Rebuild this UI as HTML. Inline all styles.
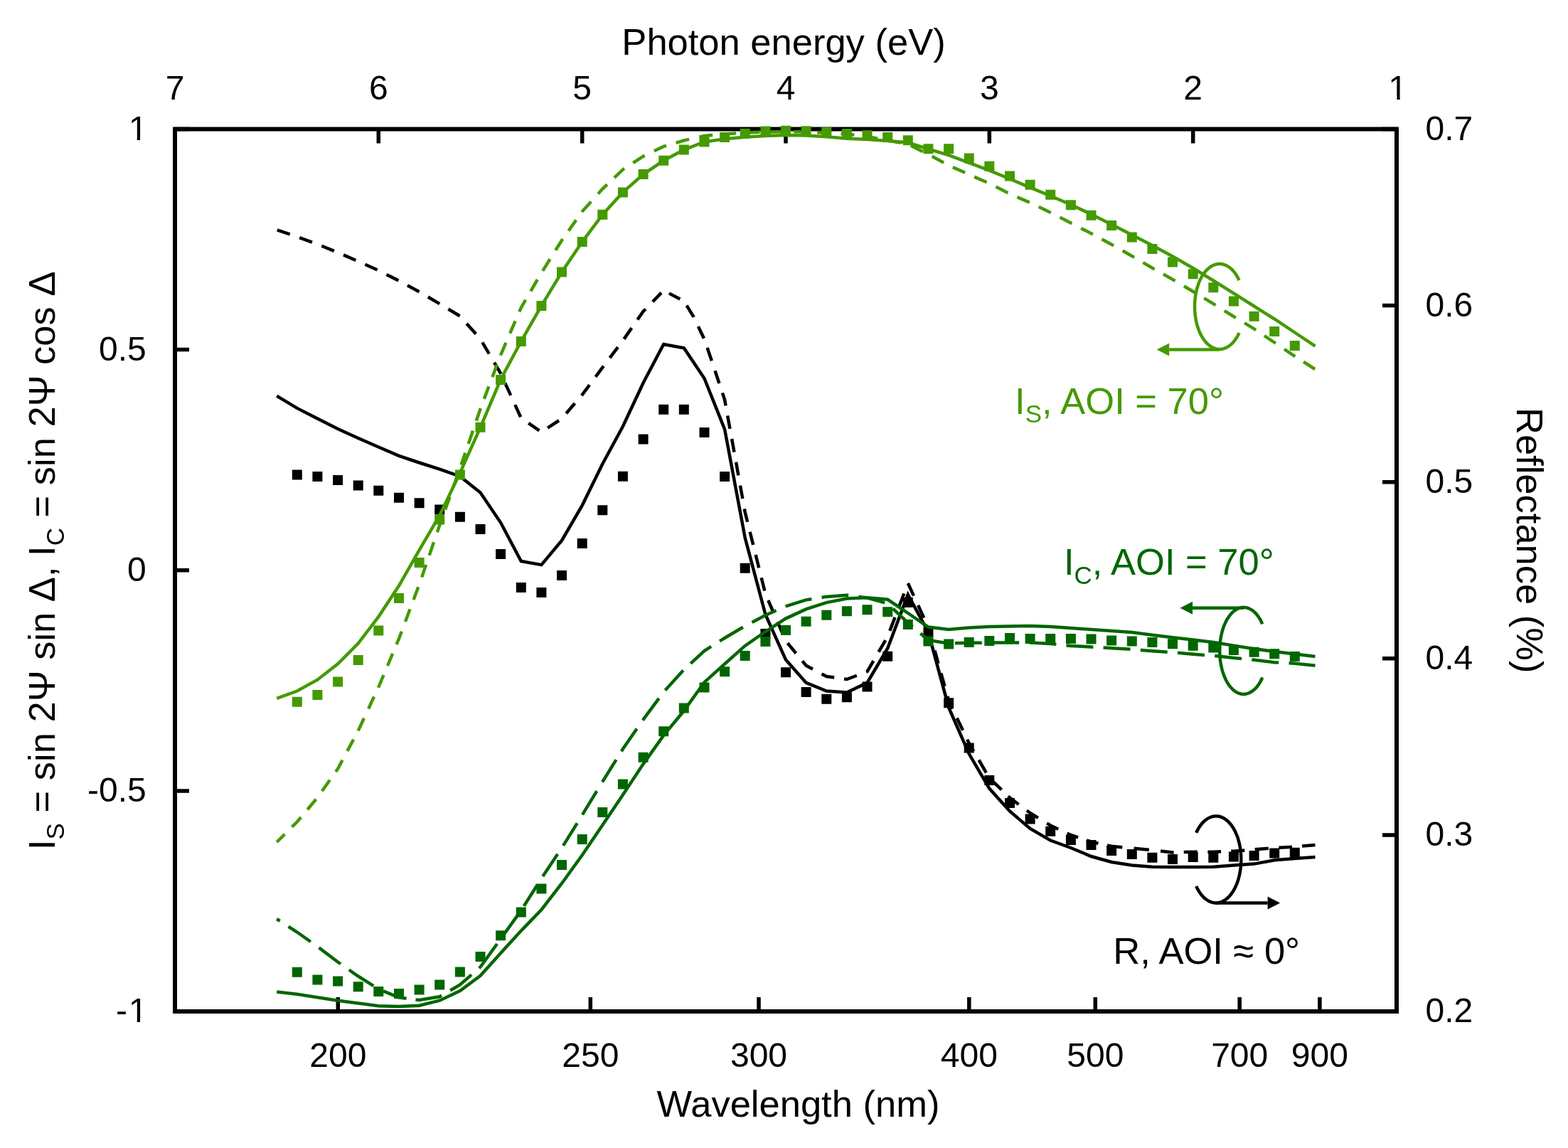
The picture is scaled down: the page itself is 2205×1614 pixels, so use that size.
<!DOCTYPE html>
<html><head><meta charset="utf-8"><title>Figure</title>
<style>html,body{margin:0;padding:0;background:#fff;} svg{display:block;}</style>
</head><body>
<svg width="2205" height="1614" viewBox="0 0 2205 1614"><path d="M246.0 181.5v20M532.3 181.5v20M818.7 181.5v20M1105.0 181.5v20M1391.3 181.5v20M1677.7 181.5v20M1964.0 181.5v20M475.3 1422.0v-20M830.3 1422.0v-20M1067.0 1422.0v-20M1362.8 1422.0v-20M1540.3 1422.0v-20M1743.2 1422.0v-20M1855.9 1422.0v-20M246.0 181.5h20M246.0 491.6h20M246.0 801.8h20M246.0 1111.9h20M246.0 1422.0h20M1964.0 181.5h-20M1964.0 429.6h-20M1964.0 677.7h-20M1964.0 925.8h-20M1964.0 1173.9h-20M1964.0 1422.0h-20" stroke="#000" stroke-width="5.5" fill="none"/>
<rect x="246.0" y="181.5" width="1718.0" height="1240.5" fill="none" stroke="#000" stroke-width="6"/>
<g fill="none" stroke="#000" stroke-width="4.5"><polyline points="389.2,323.2 389.8,323.4" stroke-dasharray="19 14.4" stroke-dashoffset="32.74"/><polyline points="389.8,323.4 417.8,332.8 446.4,343.3 475.1,355.0 503.7,367.4 532.3,380.3 561.0,394.7 589.6,410.2 618.2,427.1 646.9,444.5 656.2,454.9" stroke-dasharray="18.89 14.32"/><polyline points="656.2,454.9 675.5,476.5 678.3,481.3" stroke-dasharray="19.62 14.87"/><polyline points="678.3,481.3 695.0,509.6" stroke-dasharray="18.70 14.17"/><polyline points="695.0,509.6 704.1,525.0 710.3,538.6" stroke-dasharray="18.69 14.17"/><polyline points="710.3,538.6 724.3,569.1" stroke-dasharray="19.07 14.45"/><polyline points="724.3,569.1 732.8,587.7 743.2,594.9" stroke-dasharray="18.87 14.30"/><polyline points="743.2,594.9 761.4,607.5 770.1,601.7" stroke-dasharray="18.52 14.04"/><polyline points="770.1,601.7 790.0,588.6 796.2,581.3" stroke-dasharray="19.00 14.40"/><polyline points="796.2,581.3 817.7,556.1" stroke-dasharray="18.83 14.27"/><polyline points="817.7,556.1 818.7,555.0 837.5,529.9" stroke-dasharray="18.71 14.18"/><polyline points="837.5,529.9 847.3,516.7 857.5,503.2" stroke-dasharray="18.97 14.37"/><polyline points="857.5,503.2 875.9,478.9 877.5,476.6" stroke-dasharray="18.92 14.34"/><polyline points="877.5,476.6 896.4,449.5" stroke-dasharray="18.84 14.28"/><polyline points="896.4,449.5 904.6,437.8 917.8,424.2" stroke-dasharray="18.90 14.32"/><polyline points="917.8,424.2 933.2,408.3 961.8,423.5 965.6,429.5" stroke-dasharray="17.53 13.28"/><polyline points="965.6,429.5 975.5,445.5 981.9,459.0" stroke-dasharray="19.21 14.56"/><polyline points="981.9,459.0 990.5,477.0 994.6,489.1" stroke-dasharray="18.60 14.10"/><polyline points="994.6,489.1 1005.0,519.5 1005.5,521.2" stroke-dasharray="19.27 14.60"/><polyline points="1005.5,521.2 1015.9,552.4" stroke-dasharray="18.71 14.18"/><polyline points="1015.9,552.4 1019.1,562.0 1023.1,584.3" stroke-dasharray="18.66 14.14"/><polyline points="1023.1,584.3 1029.1,617.0" stroke-dasharray="18.91 14.33"/><polyline points="1029.1,617.0 1047.7,720.0 1070.7,812.3" stroke-dasharray="18.94 14.36"/><polyline points="1070.7,812.3 1076.4,835.0 1080.3,844.0" stroke-dasharray="18.91 14.33"/><polyline points="1080.3,844.0 1105.0,901.0 1107.5,904.1" stroke-dasharray="18.79 14.24"/><polyline points="1107.5,904.1 1128.4,929.4" stroke-dasharray="18.66 14.14"/><polyline points="1128.4,929.4 1133.6,935.7 1155.5,947.4" stroke-dasharray="18.79 14.24"/><polyline points="1155.5,947.4 1162.3,951.1 1187.1,954.5" stroke-dasharray="18.67 14.15"/><polyline points="1187.1,954.5 1190.9,955.0 1218.1,944.7" stroke-dasharray="18.71 14.18"/><polyline points="1218.1,944.7 1219.5,944.2 1235.6,916.7" stroke-dasharray="18.99 14.39"/><polyline points="1235.6,916.7 1248.2,895.0 1251.3,886.9" stroke-dasharray="19.20 14.55"/><polyline points="1251.3,886.9 1276.8,820.0" stroke-dasharray="20.36 15.43"/><polyline points="1276.8,820.0 1291.1,851.0" stroke-dasharray="19.40 14.70"/><polyline points="1291.1,851.0 1305.4,882.0 1314.5,914.7" stroke-dasharray="19.38 14.69"/><polyline points="1314.5,914.7 1323.3,946.4" stroke-dasharray="18.74 14.20"/><polyline points="1323.3,946.4 1334.1,985.0 1345.8,1009.6" stroke-dasharray="19.14 14.50"/><polyline points="1345.8,1009.6 1362.7,1045.0 1376.5,1068.5" stroke-dasharray="18.91 14.33"/><polyline points="1376.5,1068.5 1391.3,1094.0 1396.3,1098.7" stroke-dasharray="20.66 15.66"/><polyline points="1396.3,1098.7 1417.7,1119.4" stroke-dasharray="16.94 12.84"/><polyline points="1417.7,1119.4 1420.0,1121.5 1443.9,1139.5" stroke-dasharray="18.81 14.26"/><polyline points="1443.9,1139.5 1448.6,1143.0 1472.2,1157.4" stroke-dasharray="19.08 14.46"/><polyline points="1472.2,1157.4 1477.2,1160.5 1500.6,1171.5" stroke-dasharray="18.04 13.67"/><polyline points="1500.6,1171.5 1505.9,1174.0 1528.0,1181.3" stroke-dasharray="16.56 12.55"/><polyline points="1528.0,1181.3 1534.5,1183.5 1557.0,1188.5" stroke-dasharray="17.02 12.90"/><polyline points="1557.0,1188.5 1563.1,1189.8 1591.8,1192.5 1620.4,1195.3 1632.0,1196.6" stroke-dasharray="21.48 16.28"/><polyline points="1632.0,1196.6 1649.0,1198.5 1664.8,1198.1" stroke-dasharray="18.70 14.17"/><polyline points="1664.8,1198.1 1677.7,1197.8 1698.4,1197.8" stroke-dasharray="19.11 14.48"/><polyline points="1698.4,1197.8 1706.3,1197.8 1731.2,1196.8" stroke-dasharray="18.67 14.15"/><polyline points="1731.2,1196.8 1734.9,1196.7 1763.6,1194.4 1764.7,1194.3" stroke-dasharray="19.11 14.49"/><polyline points="1764.7,1194.3 1792.2,1192.0 1798.4,1191.7" stroke-dasharray="19.23 14.58"/><polyline points="1798.4,1191.7 1820.8,1190.5 1831.1,1189.6" stroke-dasharray="18.63 14.12"/><polyline points="1831.1,1189.6 1849.5,1188.1" stroke-dasharray="19 14.4"/></g>
<polyline points="389.2,556.6 417.8,573.9 446.4,588.5 475.1,603.0 503.7,616.0 532.3,628.5 561.0,640.8 589.6,650.5 618.2,659.6 646.9,669.7 675.5,692.5 704.1,734.8 732.8,789.0 761.4,794.1 790.0,759.9 818.7,710.6 847.3,652.2 875.9,599.5 904.6,538.2 933.2,484.0 961.8,489.2 990.5,532.0 1019.1,603.6 1047.7,756.0 1076.4,864.0 1105.0,927.6 1133.6,959.9 1162.3,971.6 1190.9,973.5 1219.5,959.9 1248.2,911.5 1276.8,836.0 1305.4,888.8 1334.1,994.7 1362.7,1059.8 1391.3,1108.6 1420.0,1140.5 1448.6,1165.0 1477.2,1181.5 1505.9,1192.0 1534.5,1204.0 1563.1,1212.0 1591.8,1216.4 1620.4,1218.7 1649.0,1219.0 1677.7,1219.0 1706.3,1218.7 1734.9,1216.4 1763.6,1214.6 1792.2,1209.3 1820.8,1207.0 1849.5,1204.9" fill="none" stroke="#000" stroke-width="4.5"/>
<path d="M410.8 660.5h14.0v14.0h-14.0zM439.4 663.0h14.0v14.0h-14.0zM468.1 667.9h14.0v14.0h-14.0zM496.7 675.4h14.0v14.0h-14.0zM525.3 682.8h14.0v14.0h-14.0zM554.0 692.7h14.0v14.0h-14.0zM582.6 700.2h14.0v14.0h-14.0zM611.2 709.6h14.0v14.0h-14.0zM639.9 719.8h14.0v14.0h-14.0zM668.5 737.1h14.0v14.0h-14.0zM697.1 772.0h14.0v14.0h-14.0zM725.8 819.0h14.0v14.0h-14.0zM754.4 826.1h14.0v14.0h-14.0zM783.0 801.9h14.0v14.0h-14.0zM811.7 756.9h14.0v14.0h-14.0zM840.3 710.2h14.0v14.0h-14.0zM868.9 662.8h14.0v14.0h-14.0zM897.6 610.4h14.0v14.0h-14.0zM926.2 568.8h14.0v14.0h-14.0zM954.8 568.8h14.0v14.0h-14.0zM983.5 601.0h14.0v14.0h-14.0zM1012.1 662.9h14.0v14.0h-14.0zM1040.7 791.7h14.0v14.0h-14.0zM1069.4 884.0h14.0v14.0h-14.0zM1098.0 938.2h14.0v14.0h-14.0zM1126.6 965.9h14.0v14.0h-14.0zM1155.3 975.8h14.0v14.0h-14.0zM1183.9 973.3h14.0v14.0h-14.0zM1212.5 958.4h14.0v14.0h-14.0zM1241.2 915.7h14.0v14.0h-14.0zM1269.8 840.1h14.0v14.0h-14.0zM1298.4 882.2h14.0v14.0h-14.0zM1327.1 981.2h14.0v14.0h-14.0zM1355.7 1044.4h14.0v14.0h-14.0zM1384.3 1089.9h14.0v14.0h-14.0zM1413.0 1122.0h14.0v14.0h-14.0zM1441.6 1144.5h14.0v14.0h-14.0zM1470.2 1161.8h14.0v14.0h-14.0zM1498.9 1174.0h14.0v14.0h-14.0zM1527.5 1181.1h14.0v14.0h-14.0zM1556.1 1189.1h14.0v14.0h-14.0zM1584.8 1194.0h14.0v14.0h-14.0zM1613.4 1198.8h14.0v14.0h-14.0zM1642.0 1200.9h14.0v14.0h-14.0zM1670.7 1197.9h14.0v14.0h-14.0zM1699.3 1198.8h14.0v14.0h-14.0zM1727.9 1197.5h14.0v14.0h-14.0zM1756.6 1196.1h14.0v14.0h-14.0zM1785.2 1192.6h14.0v14.0h-14.0zM1813.8 1191.7h14.0v14.0h-14.0z" fill="#000"/>
<g fill="none" stroke="#449a00" stroke-width="4.5"><polyline points="389.2,1184.0 410.5,1162.7" stroke-dasharray="19 14.4" stroke-dashoffset="3.25"/><polyline points="410.5,1162.7 417.8,1155.5 432.3,1138.2" stroke-dasharray="18.67 14.15"/><polyline points="432.3,1138.2 446.4,1121.4 452.8,1112.3" stroke-dasharray="18.82 14.27"/><polyline points="452.8,1112.3 472.1,1085.0" stroke-dasharray="19.02 14.42"/><polyline points="472.1,1085.0 475.1,1080.7 488.4,1055.9" stroke-dasharray="18.96 14.37"/><polyline points="488.4,1055.9 503.7,1027.4 503.7,1027.4" stroke-dasharray="18.45 13.98"/><polyline points="503.7,1027.4 518.1,996.5" stroke-dasharray="19.39 14.69"/><polyline points="518.1,996.5 532.0,966.7" stroke-dasharray="18.68 14.16"/><polyline points="532.0,966.7 532.3,966.1 545.0,936.0" stroke-dasharray="18.96 14.37"/><polyline points="545.0,936.0 557.6,906.0" stroke-dasharray="18.50 14.02"/><polyline points="557.6,906.0 561.0,897.9 570.0,874.0" stroke-dasharray="19.56 14.82"/><polyline points="570.0,874.0 581.5,843.2" stroke-dasharray="18.70 14.17"/><polyline points="581.5,843.2 589.6,821.6 593.1,811.4" stroke-dasharray="19.25 14.59"/><polyline points="593.1,811.4 603.7,780.8" stroke-dasharray="18.40 13.95"/><polyline points="603.7,780.8 614.8,748.3" stroke-dasharray="19.56 14.82"/><polyline points="614.8,748.3 618.2,738.5 626.1,716.4" stroke-dasharray="19.24 14.58"/><polyline points="626.1,716.4 637.4,684.9" stroke-dasharray="19.05 14.44"/><polyline points="637.4,684.9 646.9,658.5 648.5,653.6" stroke-dasharray="18.89 14.31"/><polyline points="648.5,653.6 658.7,623.9" stroke-dasharray="17.86 13.53"/><polyline points="658.7,623.9 669.8,591.6" stroke-dasharray="19.41 14.71"/><polyline points="669.8,591.6 675.5,575.0 680.8,560.9" stroke-dasharray="18.58 14.09"/><polyline points="680.8,560.9 692.4,530.1" stroke-dasharray="18.72 14.18"/><polyline points="692.4,530.1 703.9,499.6" stroke-dasharray="18.54 14.05"/><polyline points="703.9,499.6 704.1,499.0 717.2,468.6" stroke-dasharray="19.22 14.57"/><polyline points="717.2,468.6 730.2,438.4" stroke-dasharray="18.71 14.18"/><polyline points="730.2,438.4 732.8,432.5 746.3,409.3" stroke-dasharray="18.93 14.35"/><polyline points="746.3,409.3 761.4,383.5 763.2,380.7" stroke-dasharray="18.88 14.31"/><polyline points="763.2,380.7 781.3,351.8" stroke-dasharray="19.38 14.69"/><polyline points="781.3,351.8 790.0,338.0 799.5,324.5" stroke-dasharray="18.67 14.15"/><polyline points="799.5,324.5 818.3,297.9" stroke-dasharray="18.55 14.06"/><polyline points="818.3,297.9 818.7,297.3 841.1,272.5" stroke-dasharray="19.38 14.69"/><polyline points="841.1,272.5 847.3,265.6 863.9,249.8" stroke-dasharray="18.34 13.90"/><polyline points="863.9,249.8 875.9,238.4 890.3,229.0" stroke-dasharray="19.18 14.54"/><polyline points="890.3,229.0 904.6,219.7 919.9,212.3" stroke-dasharray="19.41 14.71"/><polyline points="919.9,212.3 933.2,205.9 950.6,200.8" stroke-dasharray="18.71 14.18"/><polyline points="950.6,200.8 961.8,197.5 983.4,192.6" stroke-dasharray="19.22 14.57"/><polyline points="983.4,192.6 990.5,191.0 1019.1,188.5 1047.7,186.5 1076.4,185.6 1105.0,185.2 1133.6,185.6 1162.3,186.7 1190.9,188.5 1219.5,192.0 1248.2,197.5 1276.8,202.5 1280.7,204.5" stroke-dasharray="18.92 14.34"/><polyline points="1280.7,204.5 1305.4,217.0 1310.7,219.8" stroke-dasharray="19.17 14.53"/><polyline points="1310.7,219.8 1334.1,232.5 1339.9,235.1" stroke-dasharray="18.72 14.19"/><polyline points="1339.9,235.1 1362.7,245.3 1370.2,248.6" stroke-dasharray="18.90 14.32"/><polyline points="1370.2,248.6 1391.3,257.9 1400.5,262.6" stroke-dasharray="18.99 14.40"/><polyline points="1400.5,262.6 1420.0,272.5 1430.5,277.1" stroke-dasharray="18.94 14.35"/><polyline points="1430.5,277.1 1448.6,285.0 1460.7,290.8" stroke-dasharray="18.89 14.32"/><polyline points="1460.7,290.8 1477.2,298.7 1490.5,305.6" stroke-dasharray="18.93 14.35"/><polyline points="1490.5,305.6 1505.9,313.6 1520.2,320.9" stroke-dasharray="19.03 14.42"/><polyline points="1520.2,320.9 1534.5,328.2 1549.4,336.2" stroke-dasharray="18.72 14.19"/><polyline points="1549.4,336.2 1563.1,343.7 1578.7,352.5" stroke-dasharray="19.08 14.46"/><polyline points="1578.7,352.5 1591.8,360.0 1607.4,369.1" stroke-dasharray="18.87 14.30"/><polyline points="1607.4,369.1 1620.4,376.7 1636.0,385.5" stroke-dasharray="18.73 14.19"/><polyline points="1636.0,385.5 1649.0,392.9 1665.0,402.2" stroke-dasharray="19.06 14.44"/><polyline points="1665.0,402.2 1677.7,409.7 1693.2,419.2" stroke-dasharray="18.73 14.19"/><polyline points="1693.2,419.2 1706.3,427.2 1721.8,436.9" stroke-dasharray="19.15 14.52"/><polyline points="1721.8,436.9 1734.9,445.0 1750.1,454.2" stroke-dasharray="18.90 14.32"/><polyline points="1750.1,454.2 1763.6,462.4 1778.0,472.0" stroke-dasharray="18.81 14.25"/><polyline points="1778.0,472.0 1792.2,481.5 1806.0,490.8" stroke-dasharray="19.17 14.53"/><polyline points="1806.0,490.8 1820.8,500.8 1833.1,508.7" stroke-dasharray="18.50 14.02"/><polyline points="1833.1,508.7 1849.5,519.3" stroke-dasharray="19 14.4"/></g>
<polyline points="389.2,981.8 417.8,971.5 446.4,955.7 475.1,933.4 503.7,904.5 532.3,867.1 561.0,823.5 589.6,773.4 618.2,724.6 646.9,664.8 675.5,601.0 704.1,533.5 732.8,479.9 761.4,429.9 790.0,382.5 818.7,340.1 847.3,301.7 875.9,270.4 904.6,245.1 933.2,225.8 961.8,210.6 990.5,199.4 1019.1,195.3 1047.7,192.8 1076.4,191.0 1105.0,190.0 1133.6,190.5 1162.3,192.2 1190.9,194.8 1219.5,196.0 1248.2,198.0 1276.8,200.5 1305.4,209.5 1334.1,218.2 1362.7,228.9 1391.3,239.7 1420.0,251.5 1448.6,263.6 1477.2,275.5 1505.9,287.6 1534.5,301.2 1563.1,315.4 1591.8,330.3 1620.4,345.1 1649.0,360.4 1677.7,377.0 1706.3,394.5 1734.9,412.3 1763.6,430.5 1792.2,448.5 1820.8,467.5 1849.5,486.6" fill="none" stroke="#449a00" stroke-width="4.5"/>
<path d="M410.8 979.8h14.0v14.0h-14.0zM439.4 970.1h14.0v14.0h-14.0zM468.1 951.5h14.0v14.0h-14.0zM496.7 920.9h14.0v14.0h-14.0zM525.3 879.6h14.0v14.0h-14.0zM554.0 834.1h14.0v14.0h-14.0zM582.6 783.9h14.0v14.0h-14.0zM611.2 723.6h14.0v14.0h-14.0zM639.9 660.4h14.0v14.0h-14.0zM668.5 593.7h14.0v14.0h-14.0zM697.1 526.9h14.0v14.0h-14.0zM725.8 472.9h14.0v14.0h-14.0zM754.4 422.9h14.0v14.0h-14.0zM783.0 375.5h14.0v14.0h-14.0zM811.7 333.1h14.0v14.0h-14.0zM840.3 294.7h14.0v14.0h-14.0zM868.9 263.4h14.0v14.0h-14.0zM897.6 238.1h14.0v14.0h-14.0zM926.2 218.8h14.0v14.0h-14.0zM954.8 203.6h14.0v14.0h-14.0zM983.5 192.4h14.0v14.0h-14.0zM1012.1 185.9h14.0v14.0h-14.0zM1040.7 180.7h14.0v14.0h-14.0zM1069.4 177.5h14.0v14.0h-14.0zM1098.0 176.8h14.0v14.0h-14.0zM1126.6 177.2h14.0v14.0h-14.0zM1155.3 178.7h14.0v14.0h-14.0zM1183.9 181.1h14.0v14.0h-14.0zM1212.5 183.3h14.0v14.0h-14.0zM1241.2 185.9h14.0v14.0h-14.0zM1269.8 190.3h14.0v14.0h-14.0zM1298.4 202.2h14.0v14.0h-14.0zM1327.1 202.2h14.0v14.0h-14.0zM1355.7 215.4h14.0v14.0h-14.0zM1384.3 226.8h14.0v14.0h-14.0zM1413.0 240.4h14.0v14.0h-14.0zM1441.6 252.8h14.0v14.0h-14.0zM1470.2 266.8h14.0v14.0h-14.0zM1498.9 281.2h14.0v14.0h-14.0zM1527.5 295.8h14.0v14.0h-14.0zM1556.1 310.0h14.0v14.0h-14.0zM1584.8 326.5h14.0v14.0h-14.0zM1613.4 342.9h14.0v14.0h-14.0zM1642.0 361.4h14.0v14.0h-14.0zM1670.7 378.3h14.0v14.0h-14.0zM1699.3 397.3h14.0v14.0h-14.0zM1727.9 416.4h14.0v14.0h-14.0zM1756.6 437.7h14.0v14.0h-14.0zM1785.2 459.0h14.0v14.0h-14.0zM1813.8 478.9h14.0v14.0h-14.0z" fill="#449a00"/>
<g fill="none" stroke="#006600" stroke-width="4.5"><polyline points="389.2,1292.0 405.6,1302.6" stroke-dasharray="38 14.3" stroke-dashoffset="32.68"/><polyline points="405.6,1302.6 417.8,1310.5 446.4,1330.8 448.5,1332.4" stroke-dasharray="37.91 14.27"/><polyline points="448.5,1332.4 475.1,1352.5 490.8,1363.5" stroke-dasharray="38.15 14.36"/><polyline points="490.8,1363.5 503.7,1372.5 532.3,1390.5 539.0,1393.3" stroke-dasharray="41.25 15.52"/><polyline points="539.0,1393.3 561.0,1402.4 584.5,1405.4" stroke-dasharray="34.50 12.98"/><polyline points="584.5,1405.4 589.6,1406.0 618.2,1401.3 633.2,1392.5" stroke-dasharray="37.44 14.09"/><polyline points="633.2,1392.5 646.9,1384.5 673.7,1361.1" stroke-dasharray="37.34 14.05"/><polyline points="673.7,1361.1 675.5,1359.5 704.1,1320.0 708.4,1314.0" stroke-dasharray="42.57 16.02"/><polyline points="708.4,1314.0 732.8,1280.0 761.4,1235.0 763.3,1232.1" stroke-dasharray="35.83 13.48"/><polyline points="763.3,1232.1 790.0,1192.0 792.0,1188.9" stroke-dasharray="37.69 14.18"/><polyline points="792.0,1188.9 818.7,1146.0 819.0,1145.4" stroke-dasharray="37.19 14.00"/><polyline points="819.0,1145.4 846.9,1099.6" stroke-dasharray="38.97 14.66"/><polyline points="846.9,1099.6 847.3,1099.0 873.9,1056.3" stroke-dasharray="37.08 13.96"/><polyline points="873.9,1056.3 875.9,1053.0 903.8,1012.7" stroke-dasharray="38.43 14.46"/><polyline points="903.8,1012.7 904.6,1011.7 933.2,973.0 935.4,970.6" stroke-dasharray="38.27 14.40"/><polyline points="935.4,970.6 961.8,941.5 971.2,932.8" stroke-dasharray="37.82 14.23"/><polyline points="971.2,932.8 990.5,915.0 1012.1,901.4" stroke-dasharray="37.66 14.17"/><polyline points="1012.1,901.4 1019.1,897.0 1047.7,880.0 1057.5,874.9" stroke-dasharray="38.21 14.38"/><polyline points="1057.5,874.9 1076.4,865.0 1104.7,852.4" stroke-dasharray="37.96 14.28"/><polyline points="1104.7,852.4 1105.0,852.3 1133.6,843.4 1155.5,840.0" stroke-dasharray="38.13 14.35"/><polyline points="1155.5,840.0 1162.3,838.9 1190.9,836.8 1207.3,838.9" stroke-dasharray="37.84 14.24"/><polyline points="1207.3,838.9 1219.5,840.5 1248.2,848.5 1276.8,875.6 1305.4,899.9 1334.1,904.6 1362.7,903.8 1391.3,903.6 1420.0,903.6 1448.6,903.6 1477.2,905.0 1499.5,907.4" stroke-dasharray="37.99 14.30"/><polyline points="1499.5,907.4 1505.9,908.1 1534.5,909.5 1551.6,910.5" stroke-dasharray="37.90 14.26"/><polyline points="1551.6,910.5 1563.1,911.2 1591.8,913.0 1603.8,914.0" stroke-dasharray="38.01 14.31"/><polyline points="1603.8,914.0 1620.4,915.3 1649.0,917.1 1656.0,917.8" stroke-dasharray="38.01 14.30"/><polyline points="1656.0,917.8 1677.7,919.8 1706.3,921.8 1708.2,922.0" stroke-dasharray="38.07 14.33"/><polyline points="1708.2,922.0 1734.9,925.0 1760.3,927.4" stroke-dasharray="38.05 14.32"/><polyline points="1760.3,927.4 1763.6,927.7 1792.2,931.2 1812.5,932.3" stroke-dasharray="38.10 14.34"/><polyline points="1812.5,932.3 1820.8,932.7 1849.5,935.8" stroke-dasharray="38 14.3"/></g>
<polyline points="389.2,1394.6 417.8,1397.8 446.4,1402.2 475.1,1406.7 503.7,1410.5 532.3,1414.3 561.0,1414.9 589.6,1413.7 618.2,1406.7 646.9,1393.0 675.5,1371.8 704.1,1339.9 732.8,1308.6 761.4,1279.0 790.0,1242.0 818.7,1202.3 847.3,1160.0 875.9,1117.6 904.6,1074.1 933.2,1033.9 961.8,999.3 990.5,959.2 1019.1,933.5 1047.7,907.9 1076.4,888.0 1105.0,869.6 1133.6,856.4 1162.3,847.1 1190.9,841.5 1219.5,840.3 1248.2,842.8 1276.8,862.0 1305.4,881.5 1334.1,885.1 1362.7,882.5 1391.3,881.0 1420.0,880.5 1448.6,880.0 1477.2,881.0 1505.9,883.0 1534.5,885.0 1563.1,886.9 1591.8,889.1 1620.4,892.7 1649.0,896.2 1677.7,899.6 1706.3,903.0 1734.9,907.6 1763.6,912.3 1792.2,915.9 1820.8,919.4 1849.5,923.0" fill="none" stroke="#006600" stroke-width="4.5"/>
<path d="M410.8 1359.7h14.0v14.0h-14.0zM439.4 1370.5h14.0v14.0h-14.0zM468.1 1372.6h14.0v14.0h-14.0zM496.7 1380.2h14.0v14.0h-14.0zM525.3 1387.0h14.0v14.0h-14.0zM554.0 1390.1h14.0v14.0h-14.0zM582.6 1384.4h14.0v14.0h-14.0zM611.2 1377.4h14.0v14.0h-14.0zM639.9 1359.5h14.0v14.0h-14.0zM668.5 1338.1h14.0v14.0h-14.0zM697.1 1308.3h14.0v14.0h-14.0zM725.8 1275.6h14.0v14.0h-14.0zM754.4 1242.6h14.0v14.0h-14.0zM783.0 1209.0h14.0v14.0h-14.0zM811.7 1173.0h14.0v14.0h-14.0zM840.3 1135.1h14.0v14.0h-14.0zM868.9 1095.6h14.0v14.0h-14.0zM897.6 1057.7h14.0v14.0h-14.0zM926.2 1021.3h14.0v14.0h-14.0zM954.8 988.5h14.0v14.0h-14.0zM983.5 959.5h14.0v14.0h-14.0zM1012.1 937.2h14.0v14.0h-14.0zM1040.7 914.9h14.0v14.0h-14.0zM1069.4 895.0h14.0v14.0h-14.0zM1098.0 878.9h14.0v14.0h-14.0zM1126.6 866.7h14.0v14.0h-14.0zM1155.3 857.7h14.0v14.0h-14.0zM1183.9 852.2h14.0v14.0h-14.0zM1212.5 850.2h14.0v14.0h-14.0zM1241.2 853.3h14.0v14.0h-14.0zM1269.8 871.1h14.0v14.0h-14.0zM1298.4 894.4h14.0v14.0h-14.0zM1327.1 898.5h14.0v14.0h-14.0zM1355.7 896.1h14.0v14.0h-14.0zM1384.3 893.9h14.0v14.0h-14.0zM1413.0 890.1h14.0v14.0h-14.0zM1441.6 891.1h14.0v14.0h-14.0zM1470.2 891.1h14.0v14.0h-14.0zM1498.9 891.1h14.0v14.0h-14.0zM1527.5 891.6h14.0v14.0h-14.0zM1556.1 893.4h14.0v14.0h-14.0zM1584.8 894.6h14.0v14.0h-14.0zM1613.4 895.9h14.0v14.0h-14.0zM1642.0 898.2h14.0v14.0h-14.0zM1670.7 900.8h14.0v14.0h-14.0zM1699.3 903.5h14.0v14.0h-14.0zM1727.9 907.0h14.0v14.0h-14.0zM1756.6 909.7h14.0v14.0h-14.0zM1785.2 912.3h14.0v14.0h-14.0zM1813.8 915.9h14.0v14.0h-14.0z" fill="#006600"/>
<g font-family="Liberation Sans, Arial, sans-serif" font-size="48" fill="#000"><text x="246.0" y="140" text-anchor="middle">7</text><text x="532.3" y="140" text-anchor="middle">6</text><text x="818.7" y="140" text-anchor="middle">5</text><text x="1105.0" y="140" text-anchor="middle">4</text><text x="1391.3" y="140" text-anchor="middle">3</text><text x="1677.7" y="140" text-anchor="middle">2</text><text x="1952.36" y="140">1</text><text x="475.3" y="1500" text-anchor="middle">200</text><text x="830.3" y="1500" text-anchor="middle">250</text><text x="1067.0" y="1500" text-anchor="middle">300</text><text x="1362.8" y="1500" text-anchor="middle">400</text><text x="1540.3" y="1500" text-anchor="middle">500</text><text x="1743.2" y="1500" text-anchor="middle">700</text><text x="1855.9" y="1500" text-anchor="middle">900</text><text x="180.71" y="196.7">1</text><text x="205.7" y="506.8" text-anchor="end">0.5</text><text x="205.7" y="817.0" text-anchor="end">0</text><text x="205.7" y="1127.1" text-anchor="end">-0.5</text><text x="163.03" y="1437.2">-<tspan dx="1.7">1</tspan></text><text x="2004.5" y="196.7">0.7</text><text x="2004.5" y="444.8">0.6</text><text x="2004.5" y="692.9">0.5</text><text x="2004.5" y="941.0">0.4</text><text x="2004.5" y="1189.1">0.3</text><text x="2004.5" y="1437.2">0.2</text></g>
<rect x="1953.9" y="135.7" width="10.5" height="5.3" fill="#fff"/><rect x="1968.7" y="135.7" width="9.7" height="5.3" fill="#fff"/><rect x="182.2" y="192.4" width="10.5" height="5.3" fill="#fff"/><rect x="197.0" y="192.4" width="9.7" height="5.3" fill="#fff"/><rect x="182.2" y="1432.9" width="10.5" height="5.3" fill="#fff"/><rect x="197.0" y="1432.9" width="9.7" height="5.3" fill="#fff"/>
<g font-family="Liberation Sans, Arial, sans-serif" font-size="52.5" fill="#000"><text x="1102" y="76.7" text-anchor="middle">Photon energy (eV)</text><text x="1122.5" y="1570.4" text-anchor="middle">Wavelength (nm)</text><text transform="translate(77,1195) rotate(-90)">I<tspan font-size="35" dy="12.5">S</tspan><tspan dy="-12.5"> = sin 2Ψ sin Δ, I</tspan><tspan font-size="35" dy="12.5">C</tspan><tspan dy="-12.5"> = sin 2Ψ cos Δ</tspan></text><text transform="translate(2133,573) rotate(90)">Reflectance (%)</text></g>
<polyline points="1742.6,394.1 1741.2,391.2 1739.7,388.5 1738.1,386.0 1736.5,383.6 1734.7,381.4 1732.9,379.4 1731.0,377.6 1729.0,376.0 1727.0,374.6 1724.9,373.5 1722.8,372.5 1720.7,371.8 1718.6,371.3 1716.4,371.0 1714.2,371.0 1712.1,371.2 1709.9,371.6 1707.8,372.3 1705.7,373.2 1703.6,374.3 1701.6,375.6 1699.6,377.1 1697.7,378.9 1695.8,380.8 1694.1,382.9 1692.4,385.2 1690.8,387.7 1689.2,390.4 1687.8,393.2 1686.5,396.2 1685.3,399.2 1684.2,402.5 1683.2,405.8 1682.4,409.2 1681.7,412.7 1681.1,416.3 1680.6,419.9 1680.3,423.6 1680.1,427.3 1680.0,431.0 1680.1,434.7 1680.3,438.4 1680.6,442.1 1681.1,445.7 1681.7,449.3 1682.4,452.8 1683.2,456.2 1684.2,459.5 1685.3,462.8 1686.5,465.8 1687.8,468.8 1689.2,471.6 1690.8,474.3 1692.4,476.8 1694.1,479.1 1695.8,481.2 1697.7,483.1 1699.6,484.9 1701.6,486.4 1703.6,487.7 1705.7,488.8 1707.8,489.7 1709.9,490.4 1712.1,490.8 1714.2,491.0 1716.4,491.0 1718.6,490.7 1720.7,490.2 1722.8,489.5 1724.9,488.5 1727.0,487.4 1729.0,486.0 1731.0,484.4 1732.9,482.6 1734.7,480.6 1736.5,478.4 1738.1,476.0 1739.7,473.5 1741.2,470.8 1742.6,467.9" fill="none" stroke="#449a00" stroke-width="4.5"/><path d="M1715.0 491.5H1644.2" stroke="#449a00" stroke-width="4.5"/><path d="M1626.7 491.5L1644.2 482.5L1644.2 500.5z" fill="#449a00"/><polyline points="1775.3,877.3 1773.9,874.4 1772.5,871.7 1771.0,869.1 1769.4,866.7 1767.7,864.5 1766.0,862.4 1764.1,860.6 1762.3,859.0 1760.3,857.6 1758.3,856.4 1756.3,855.5 1754.3,854.7 1752.2,854.2 1750.1,853.9 1748.1,853.9 1746.0,854.1 1743.9,854.5 1741.9,855.2 1739.8,856.1 1737.9,857.2 1735.9,858.6 1734.0,860.1 1732.2,861.9 1730.4,863.9 1728.7,866.0 1727.1,868.4 1725.5,870.9 1724.1,873.6 1722.7,876.5 1721.4,879.5 1720.3,882.6 1719.2,885.9 1718.3,889.3 1717.5,892.7 1716.8,896.3 1716.2,899.9 1715.8,903.6 1715.5,907.4 1715.3,911.1 1715.2,914.9 1715.3,918.7 1715.5,922.4 1715.8,926.2 1716.2,929.9 1716.8,933.5 1717.5,937.1 1718.3,940.5 1719.2,943.9 1720.3,947.2 1721.4,950.3 1722.7,953.3 1724.1,956.2 1725.5,958.9 1727.1,961.4 1728.7,963.8 1730.4,965.9 1732.2,967.9 1734.0,969.7 1735.9,971.2 1737.9,972.6 1739.8,973.7 1741.9,974.6 1743.9,975.3 1746.0,975.7 1748.1,975.9 1750.1,975.9 1752.2,975.6 1754.3,975.1 1756.3,974.3 1758.3,973.4 1760.3,972.2 1762.3,970.8 1764.1,969.2 1766.0,967.4 1767.7,965.3 1769.4,963.1 1771.0,960.7 1772.5,958.1 1773.9,955.4 1775.3,952.5" fill="none" stroke="#006600" stroke-width="4.5"/><path d="M1748.8 854.8H1677.0" stroke="#006600" stroke-width="4.5"/><path d="M1659.5 854.8L1677.0 845.8L1677.0 863.8z" fill="#006600"/><polyline points="1682.2,1246.0 1683.6,1248.9 1685.1,1251.6 1686.7,1254.2 1688.4,1256.6 1690.1,1258.8 1692.0,1260.9 1693.9,1262.7 1695.9,1264.3 1697.9,1265.7 1700.0,1266.9 1702.1,1267.8 1704.2,1268.6 1706.4,1269.1 1708.6,1269.4 1710.8,1269.4 1713.0,1269.2 1715.1,1268.8 1717.3,1268.1 1719.4,1267.2 1721.5,1266.1 1723.5,1264.7 1725.5,1263.2 1727.5,1261.4 1729.3,1259.4 1731.1,1257.3 1732.8,1254.9 1734.5,1252.4 1736.0,1249.7 1737.4,1246.8 1738.7,1243.8 1740.0,1240.7 1741.1,1237.4 1742.0,1234.0 1742.9,1230.6 1743.6,1227.0 1744.2,1223.4 1744.7,1219.7 1745.0,1215.9 1745.2,1212.2 1745.3,1208.4 1745.2,1204.6 1745.0,1200.9 1744.7,1197.1 1744.2,1193.4 1743.6,1189.8 1742.9,1186.2 1742.0,1182.8 1741.1,1179.4 1740.0,1176.1 1738.7,1173.0 1737.4,1170.0 1736.0,1167.1 1734.5,1164.4 1732.8,1161.9 1731.1,1159.5 1729.3,1157.4 1727.5,1155.4 1725.5,1153.6 1723.5,1152.1 1721.5,1150.7 1719.4,1149.6 1717.3,1148.7 1715.1,1148.0 1713.0,1147.6 1710.8,1147.4 1708.6,1147.4 1706.4,1147.7 1704.2,1148.2 1702.1,1149.0 1700.0,1149.9 1697.9,1151.1 1695.9,1152.5 1693.9,1154.1 1692.0,1155.9 1690.1,1158.0 1688.4,1160.2 1686.7,1162.6 1685.1,1165.2 1683.6,1167.9 1682.2,1170.8" fill="none" stroke="#000" stroke-width="4.5"/><path d="M1710.0 1269.5H1782.6" stroke="#000" stroke-width="4.5"/><path d="M1800.1 1269.5L1782.6 1260.5L1782.6 1278.5z" fill="#000"/>
<g font-family="Liberation Sans, Arial, sans-serif" font-size="52.5"><text x="1427.1" y="581.7" fill="#449a00">I<tspan font-size="35" dy="12.5">S</tspan><tspan dy="-12.5">, AOI = 70°</tspan></text><text x="1495.9" y="808" fill="#006600">I<tspan font-size="35" dy="12.5">C</tspan><tspan dy="-12.5">, AOI = 70°</tspan></text><text x="1565.3" y="1355.1" fill="#000">R, AOI ≈ 0°</text></g></svg>
</body></html>
